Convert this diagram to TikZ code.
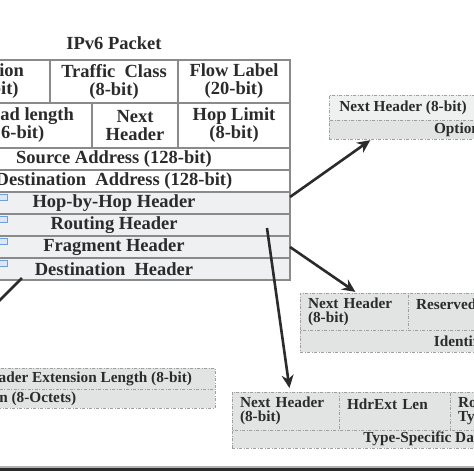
\documentclass[tikz,border=0pt]{standalone}
\usepackage{fontspec}
\setmainfont{Liberation Serif}
\usetikzlibrary{arrows.meta,positioning}
\definecolor{cellgray}{HTML}{EEF0F1}
\definecolor{boxgray}{HTML}{E2E4E4}
\definecolor{boxlight}{HTML}{EFF0F0}
\definecolor{linegray}{HTML}{8A8A8A}
\definecolor{inkgray}{HTML}{2B2B2B}
\definecolor{iconblue}{HTML}{6FA0DC}
\tikzset{cell/.style = {rectangle, draw=linegray, line width=1.3pt, inner sep=0pt, outer sep=0pt, align=center, text=inkgray, font=\bfseries\fontsize{18.5}{18}\selectfont}}
\tikzset{fullrow/.style = {cell, minimum width=352pt, minimum height=22pt}}
\tikzset{extrow/.style = {fullrow, fill=cellgray}}
\tikzset{field/.style = {rectangle, draw=gray!75, line width=0.8pt, dash pattern=on 3pt off 1.5pt on 1pt off 1.5pt, fill=boxgray, inner sep=0pt, outer sep=0pt, text=inkgray, font=\bfseries\fontsize{15.3}{14}\selectfont}}
\tikzset{fieldl/.style = {field, align=left, inner xsep=8pt}}
\tikzset{arrow/.style={line width=2.6pt, draw=inkgray, -{Stealth[length=13pt,width=12pt]}, shorten >=2pt}}

\begin{document}
\begin{tikzpicture}[x=1pt,y=-1pt]
\useasboundingbox (0,0) rectangle (474,474);
\clip (0,0) rectangle (474,474);

% IPv6 header
\node [cell, anchor=north west, minimum width=112pt, minimum height=43pt] (ver) at (-62,60) {Version\\(4-bit)};
\node [cell, right=0pt of ver, minimum width=128pt, minimum height=43pt] (tc) {Traffic~~Class\\(8-bit)};
\node [cell, right=0pt of tc, minimum width=112pt, minimum height=43pt] (fl) {Flow Label\\(20-bit)};
\node [cell, below right=0pt and 0pt of ver.south west, minimum width=154pt, minimum height=45pt] (plen) {Payload length\\(16-bit)};
\node [cell, right=0pt of plen, minimum width=86pt, minimum height=45pt] (nxt) {Next\\Header};
\node [cell, right=0pt of nxt, minimum width=112pt, minimum height=45pt] (hlim) {Hop Limit\\(8-bit)};
\node [fullrow, below right=0pt and 0pt of plen.south west] (src) {Source Address (128-bit)};
\node [fullrow, below=0pt of src] (dst) {Destination~~Address (128-bit)};
\node [extrow, below=0pt of dst] (hbh) {Hop-by-Hop Header};
\node [extrow, below=0pt of hbh] (rout) {Routing Header};
\node [extrow, below=0pt of rout] (frag) {Fragment Header};
\node [extrow, below=0pt of frag] (dest) {Destination~~Header};
\node [font=\bfseries\fontsize{18.5}{20}\selectfont, text=inkgray, inner sep=0pt, above=10pt of tc] (title) {IPv6 Packet};

\foreach \r in {hbh,rout,frag,dest}
  \draw [draw=iconblue, fill=iconblue!25, line width=0.8pt] ([shift={(61pt,-2pt)}]\r.north west) rectangle ++(8,6);

% hop-by-hop options
\node [field, fill=boxlight, anchor=north west, minimum width=148pt, minimum height=25pt] (hbhnh) at (329,95) {Next Header (8-bit)};
\node [field, below right=0pt and 0pt of hbhnh.south west, minimum width=262pt, minimum height=19pt] (hbhopt) {Options};

% fragment
\node [fieldl, anchor=north west, text width=92pt, minimum height=37pt] (fragnh) at (300,293) {Next Header\\(8-bit)};
\node [fieldl, right=0pt of fragnh, text width=80pt, minimum height=37pt] (fragres) {Reserved\\~};
\node [field, below right=0pt and 0pt of fragnh.south west, minimum width=356pt, minimum height=22pt] (fragid) {Identification};

% routing
\node [fieldl, anchor=north west, text width=91pt, minimum height=38pt] (rtnh) at (232,392) {Next Header\\(8-bit)};
\node [fieldl, right=0pt of rtnh, text width=95pt, minimum height=38pt] (rthel) {HdrExt Len\\~};
\node [fieldl, right=0pt of rthel, text width=80pt, minimum height=38pt] (rttype) {Routing\\Type};
\node [field, below right=0pt and 0pt of rtnh.south west, minimum width=386pt, minimum height=18pt] (rtdata) {Type-Specific Data};

% destination options
\node [field, anchor=north east, minimum width=258pt, minimum height=21pt] (dohel) at (215,368) {Header Extension Length (8-bit)};
\node [field, left=0pt of dohel, minimum width=134pt, minimum height=21pt] (donh) {Next Header (8-bit)};
\node [field, below right=0pt and 0pt of donh.south west, minimum width=392pt, minimum height=19pt] (doopt) {Option (8-Octets)};

\draw [arrow] ([yshift=6pt]hbh.east) -- ([xshift=43pt]hbhopt.south west);
\draw [arrow] (frag.east) -- ([xshift=57pt]fragnh.north west);
\draw [arrow, shorten >=4pt] ([xshift=-23pt,yshift=-3pt]rout.east) -- ([xshift=58pt]rtnh.north west);
\draw [arrow] ([xshift=84pt,yshift=2pt]dest.south west) -- ([xshift=-25pt]donh.north east);

\draw [line width=4pt, draw=gray!60] (-10,468) -- (490,468);
\draw [line width=2.6pt, draw=inkgray] (-10,469.5) -- (490,469.5);
\end{tikzpicture}
\end{document}
